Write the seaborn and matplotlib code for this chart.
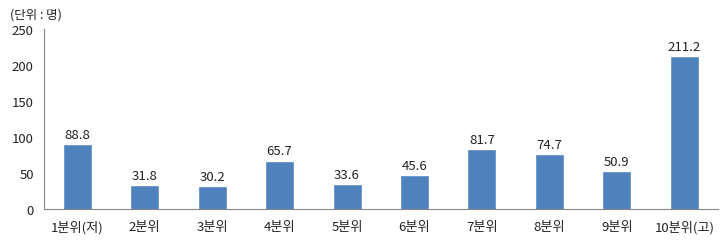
import matplotlib
matplotlib.use("Agg")
import matplotlib.pyplot as plt
import seaborn as sns
import numpy as np
import pandas as pd

categories = ["1분위(저)", "2분위", "3분위", "4분위", "5분위", "6분위", "7분위", "8분위", "9분위", "10분위(고)"]
values = [88.8, 31.8, 30.2, 65.7, 33.6, 45.6, 81.7, 74.7, 50.9, 211.2]
yticks = [0, 50, 100, 150, 200, 250]

sns.set_style("white")
plt.rcParams['font.family'] = ['Noto Sans CJK KR', 'DejaVu Sans']

df = pd.DataFrame({"cat": categories, "val": values})
fig = plt.figure(figsize=(7.26, 2.51), dpi=100)
ax = fig.add_axes([0.060, 0.163, 0.929, 0.717])
sns.barplot(data=df, x="cat", y="val", color="#4F81BD", width=0.4, saturation=1,
            edgecolor="#5B8BC6", linewidth=0.5, ax=ax)
ax.set_xlim(-0.5, len(categories) - 0.5)
ax.set_ylim(0, 250)
ax.set_yticks(yticks)
ax.set_yticklabels([str(t) for t in yticks], fontsize=9.5, color="#222222")
ax.set_xlabel("")
ax.set_ylabel("")
ax.tick_params(axis="x", which="major", length=0, labelsize=9.5, labelcolor="#222222", pad=8)
ax.set_xticks(np.arange(-0.5, len(categories), 1), minor=True)
ax.tick_params(axis="x", which="minor", length=4, color="#868686", width=0.8, direction="out")
ax.tick_params(axis="y", length=4, color="#868686", width=0.8, direction="out", pad=3)
for s in ["top", "right"]:
    ax.spines[s].set_visible(False)
for s in ["left", "bottom"]:
    ax.spines[s].set_color("#868686")
    ax.spines[s].set_linewidth(0.8)
for i, v in enumerate(values):
    ax.text(i, v + 6, f"{v:.1f}", ha="center", va="bottom", fontsize=9.5, color="#222222")
fig.text(10 / 726, 1 - 15 / 251, "(단위 : 명)", ha="left", va="center", fontsize=9, color="#222222")
fig.savefig("out.png", dpi=100)
